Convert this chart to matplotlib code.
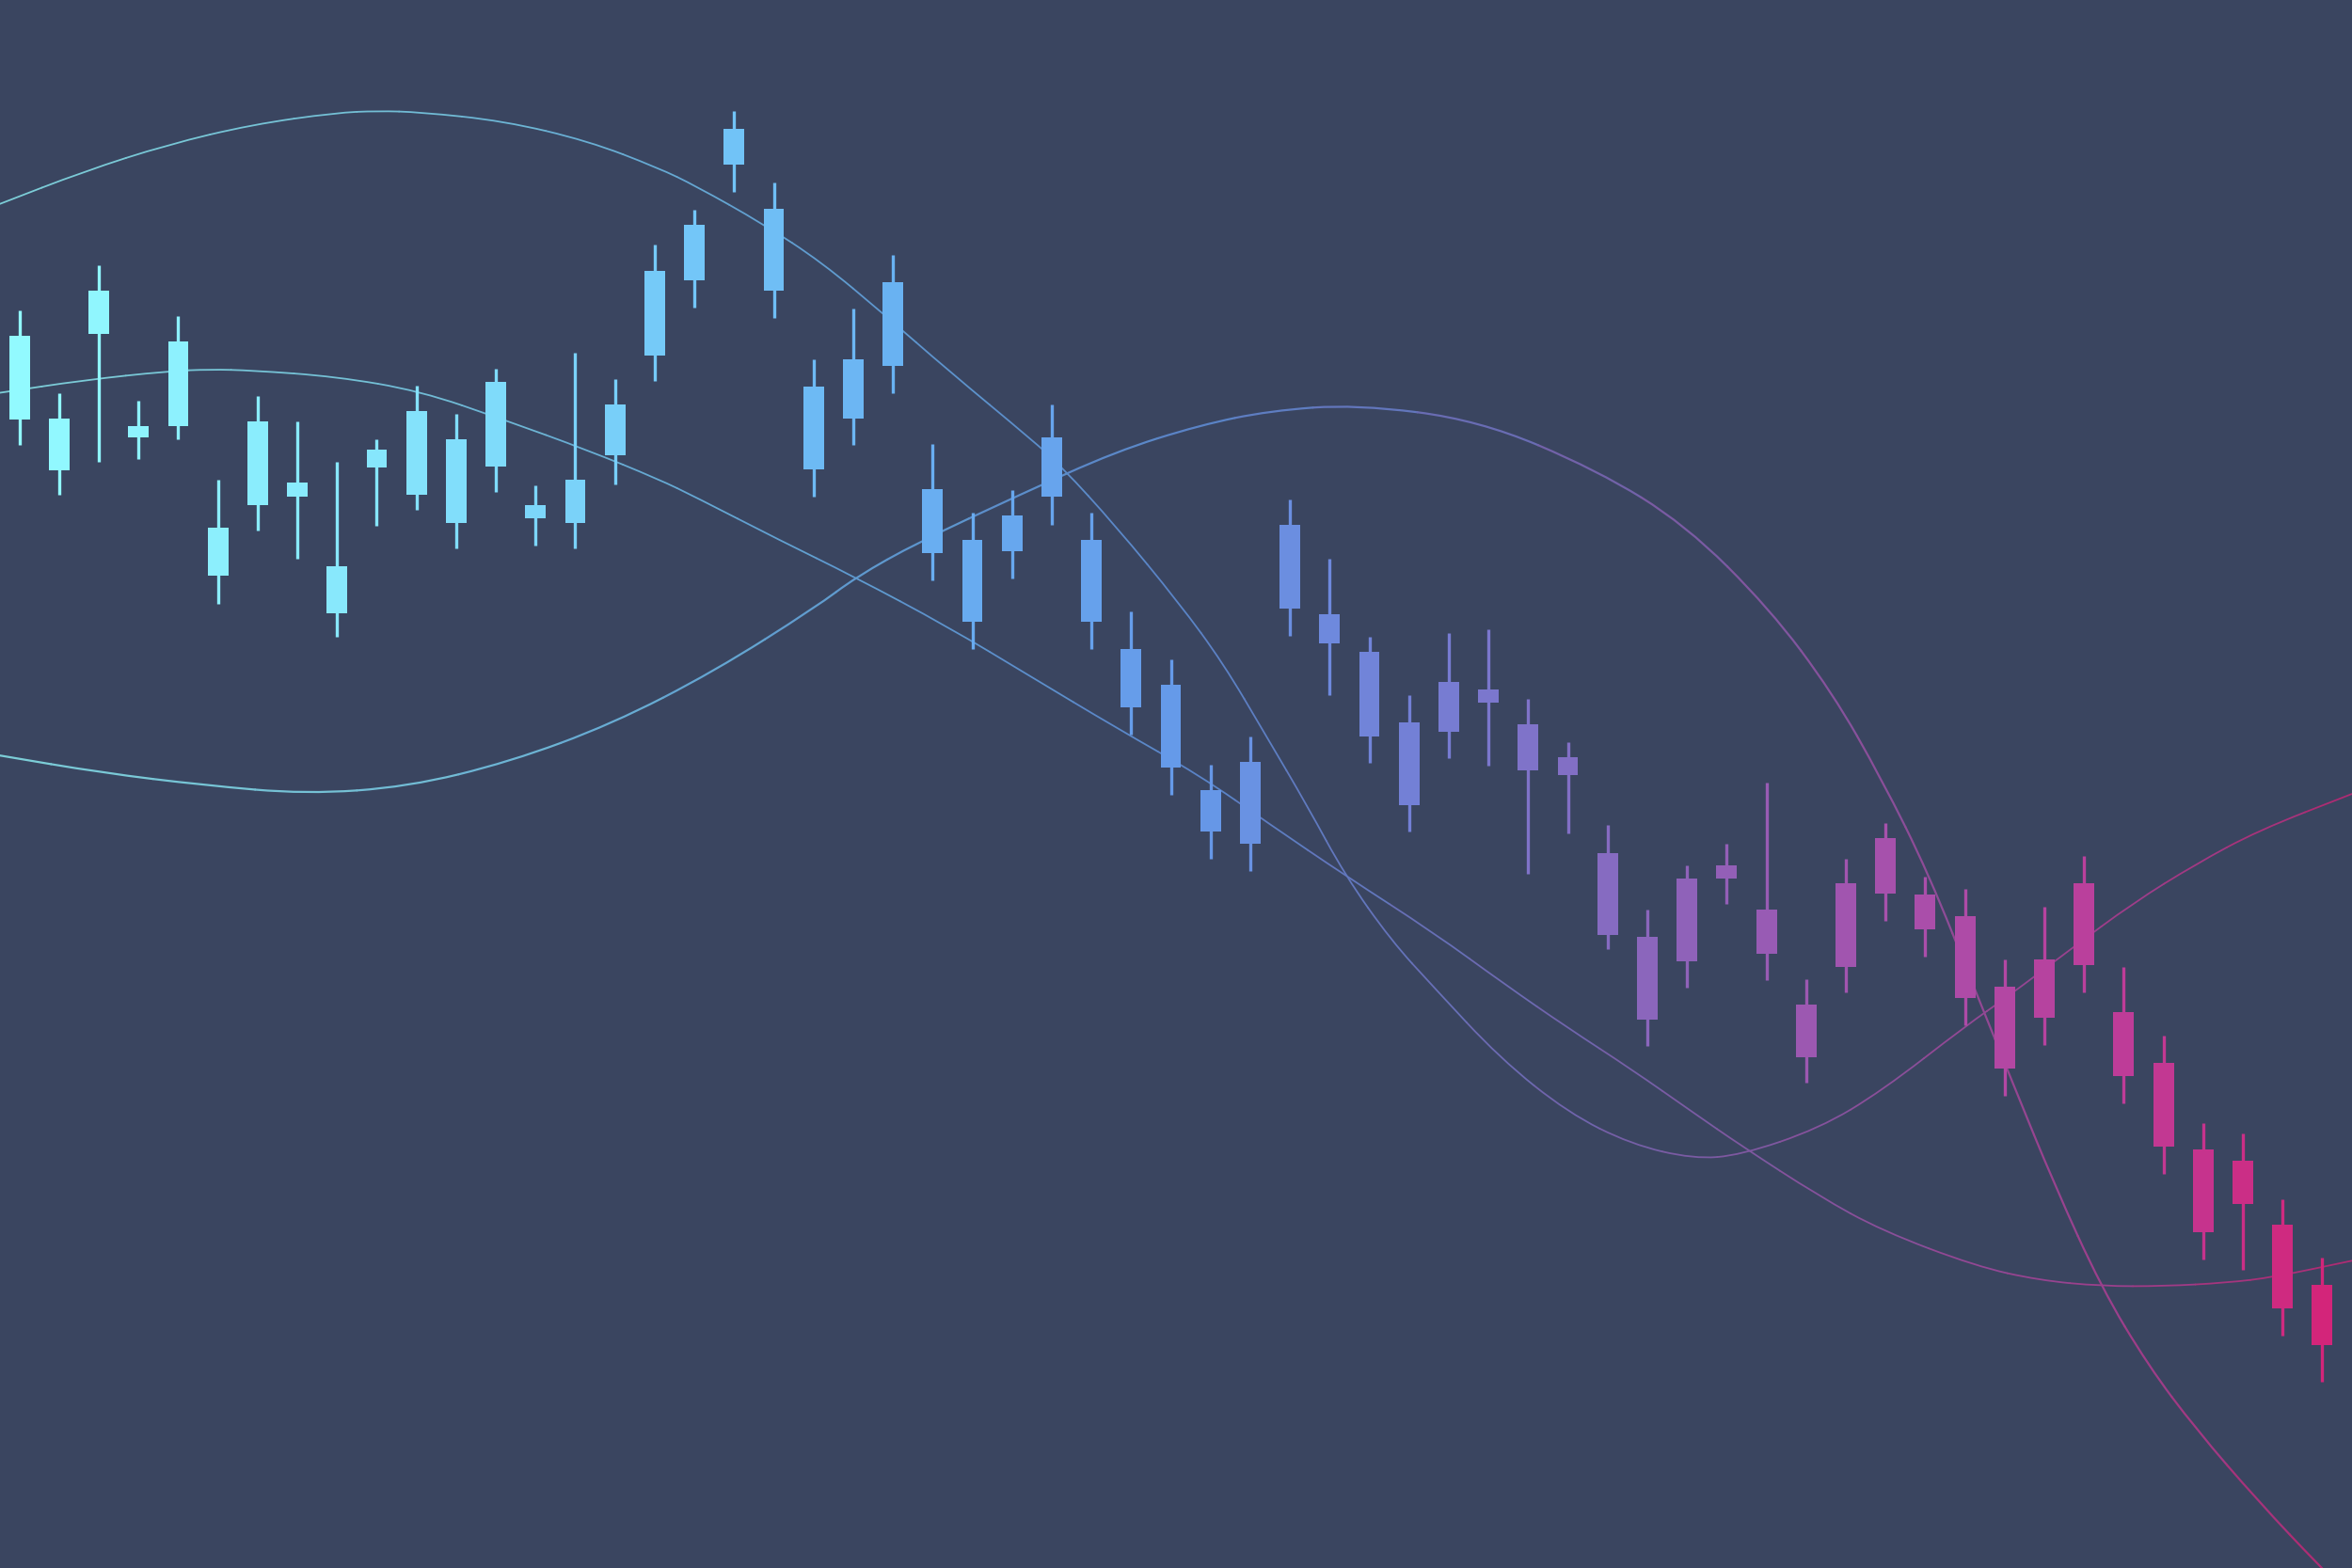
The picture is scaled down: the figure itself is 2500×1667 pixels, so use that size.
import matplotlib
matplotlib.use("Agg")
import matplotlib.pyplot as plt
import numpy as np
from matplotlib.colors import LinearSegmentedColormap, to_rgb
from matplotlib.patches import PathPatch
from matplotlib.path import Path

# candle data (price units), one candle per day 0..58
high = [83.9, 78.4, 86.9, 77.9, 83.5, 72.6, 78.2, 76.5, 73.8, 75.3,
        78.9, 77.0, 80.0, 72.2, 81.1, 79.3, 88.3, 90.6, 97.2, 92.4,
        80.6, 84.0, 87.6, 75.0, 70.4, 71.9, 77.6, 70.4, 63.8, 60.6,
        53.6, 55.5, 71.3, 67.3, 62.1, 58.2, 62.4, 62.6, 58.0, 55.1,
        49.6, 43.9, 46.9, 48.3, 52.4, 39.3, 47.3, 49.7, 46.1, 45.3,
        40.6, 44.1, 47.5, 40.1, 35.5, 29.7, 29.0, 24.6, 20.7]
low = [74.9, 71.6, 73.8, 74.0, 75.3, 64.3, 69.2, 67.3, 62.1, 69.5,
       70.6, 68.0, 71.8, 68.2, 68.0, 72.3, 79.2, 84.1, 91.8, 83.4,
       71.5, 74.9, 78.4, 65.9, 61.3, 66.0, 69.6, 61.3, 55.6, 51.6,
       47.3, 46.5, 62.2, 58.2, 53.7, 49.1, 54.0, 53.5, 46.3, 49.0,
       41.3, 34.8, 38.7, 44.3, 39.2, 32.4, 38.4, 43.2, 40.8, 36.2,
       31.5, 34.9, 38.4, 31.0, 26.3, 20.6, 19.9, 15.5, 12.4]
body_top = [82.2, 76.7, 85.2, 76.2, 81.8, 69.4, 76.5, 72.4, 66.8, 74.6,
            77.2, 75.3, 79.1, 70.9, 72.6, 77.6, 86.5, 89.6, 96.0, 90.7,
            78.8, 80.6, 85.8, 72.0, 68.6, 70.2, 75.4, 68.6, 61.3, 58.9,
            51.9, 53.8, 69.6, 63.6, 61.1, 56.4, 59.1, 58.6, 56.3, 54.1,
            47.7, 42.1, 46.0, 46.9, 43.9, 37.6, 45.7, 48.7, 44.9, 43.5,
            38.8, 40.6, 45.7, 37.1, 33.7, 27.9, 27.2, 22.9, 18.9]
body_bot = [76.6, 73.2, 82.3, 75.4, 76.2, 66.2, 70.9, 71.5, 63.7, 73.4,
            71.6, 69.7, 73.5, 70.0, 69.7, 74.2, 80.9, 85.9, 93.6, 85.2,
            73.3, 76.7, 80.2, 67.7, 63.1, 67.8, 71.5, 63.1, 57.4, 53.4,
            49.1, 48.3, 64.0, 61.7, 55.5, 50.9, 55.8, 57.7, 53.2, 52.9,
            42.2, 36.6, 40.5, 46.0, 41.0, 34.1, 40.1, 45.0, 42.6, 38.0,
            33.3, 36.7, 40.2, 32.8, 28.1, 22.4, 24.3, 17.3, 14.9]

# three smooth indicator curves (day, price)
l1_day = [-0.49, 1.62, 3.74, 5.86, 7.97, 9.03, 10.09, 12.20, 14.32, 16.09,
          17.03, 18.72, 20.20, 21.79, 23.38, 25.49, 26.24, 27.61, 29.20, 30.32,
          31.38, 32.44, 33.39, 34.55, 35.61, 37.29, 39.01, 40.59, 42.17, 43.35,
          45.33, 46.91, 49.04, 50.07, 51.64, 53.23, 54.81, 56.39, 58.75]
l1_val = [91.0, 93.16, 94.96, 96.29, 97.08, 97.2, 97.12, 96.53, 95.2, 93.4,
          92.2, 89.68, 87.12, 83.6, 79.92, 75.28, 73.5, 69.52, 64.4, 60.35,
          55.6, 50.83, 46.2, 41.86, 38.78, 34.0, 30.36, 28.27, 27.29, 27.54,
          29.32, 31.83, 36.2, 38.1, 41.23, 44.35, 46.95, 49.2, 51.64]

l2_day = [-0.49, 1.62, 3.74, 4.80, 5.86, 7.97, 10.09, 12.20, 14.32, 16.09,
          17.03, 19.15, 21.00, 23.38, 25.49, 27.61, 29.73, 31.50, 33.39, 35.61,
          37.43, 39.01, 40.59, 42.17, 43.35, 45.33, 46.91, 49.28, 50.86, 52.44,
          54.02, 55.60, 56.78, 58.75]
l2_val = [78.4, 79.24, 79.84, 79.96, 79.89, 79.48, 78.52, 76.6, 74.56, 72.64,
          71.44, 68.56, 66.16, 62.8, 59.44, 56.07, 52.87, 49.6, 46.2, 42.4,
          38.9, 36.01, 33.29, 30.36, 28.2, 24.8, 22.5, 20.13, 19.2, 18.8,
          18.8, 19.03, 19.4, 20.5]

l3_day = [-0.49, 2.08, 4.65, 7.22, 9.78, 12.35, 14.92, 17.49, 20.06, 21.08,
          22.63, 25.20, 27.61, 29.73, 31.50, 33.66, 36.76, 39.74, 41.96, 44.08,
          45.66, 46.91, 48.09, 49.28, 50.23, 51.25, 52.44, 53.62, 54.81, 56.39,
          57.97, 58.75]
l3_val = [54.2, 53.05, 52.22, 51.63, 52.11, 53.78, 56.3, 59.8, 64.1, 66.12,
          68.42, 71.6, 74.48, 76.24, 77.2, 77.62, 76.58, 73.23, 69.6, 64.0,
          58.4, 52.6, 46.3, 38.4, 32.2, 25.6, 18.7, 13.5, 9.3, 4.45,
          0.02, -2.0]

BG = "#3a4560"
XMIN, XMAX = -0.49, 58.75

grad = LinearSegmentedColormap.from_list("trend", [
    (0.0, "#93fbff"), (0.16, "#86e6fc"), (0.287, "#74c8f8"),
    (0.383, "#69b1f2"), (0.51, "#6598e8"), (0.60, "#7380d6"),
    (0.70, "#8a66bc"), (0.83, "#ad4ca8"), (0.906, "#be3c98"),
    (1.0, "#d62276")])


def xcolor(x):
    return grad((np.asarray(x) - XMIN) / (XMAX - XMIN))


def line_color(x, strength):
    # gradient colour mixed into the background, kept opaque
    c = np.array(xcolor(x)[:3])
    return tuple(strength * c + (1 - strength) * np.array(to_rgb(BG)))


def smooth_line(ax, xs, ys, lw, strength):
    # quadratic curve through the midpoints, read points act as control points
    pts = np.column_stack([xs, ys])
    mids = (pts[:-1] + pts[1:]) / 2
    pieces = [(pts[0], None, mids[0])]
    for i in range(1, len(pts) - 1):
        pieces.append((mids[i - 1], pts[i], mids[i]))
    pieces.append((mids[-1], None, pts[-1]))
    for a, c, b in pieces:
        if c is None:
            path = Path([a, b], [Path.MOVETO, Path.LINETO])
            cx = (a[0] + b[0]) / 2
        else:
            path = Path([a, c, b], [Path.MOVETO, Path.CURVE3, Path.CURVE3])
            cx = c[0]
        ax.add_patch(PathPatch(path, fill=False, edgecolor=line_color(cx, strength),
                               linewidth=lw, capstyle="round", zorder=1))


fig = plt.figure(figsize=(25, 16.67), dpi=100, facecolor=BG)
ax = fig.add_axes([0, 0, 1, 1])
ax.set_facecolor(BG)

smooth_line(ax, l1_day, l1_val, 1.3, 0.75)
smooth_line(ax, l2_day, l2_val, 1.3, 0.75)
smooth_line(ax, l3_day, l3_val, 1.6, 0.75)

days = np.arange(len(high))
cols = xcolor(days)
ax.vlines(days, low, high, colors=cols, linewidth=2.4, zorder=2)
ax.bar(days, np.array(body_top) - np.array(body_bot), bottom=body_bot,
       width=0.52, color=cols, linewidth=0, zorder=3)

ax.set_xlim(XMIN, XMAX)
ax.set_ylim(0, 104.6)
ax.axis("off")

fig.savefig("out.png", dpi=100, facecolor=BG)
